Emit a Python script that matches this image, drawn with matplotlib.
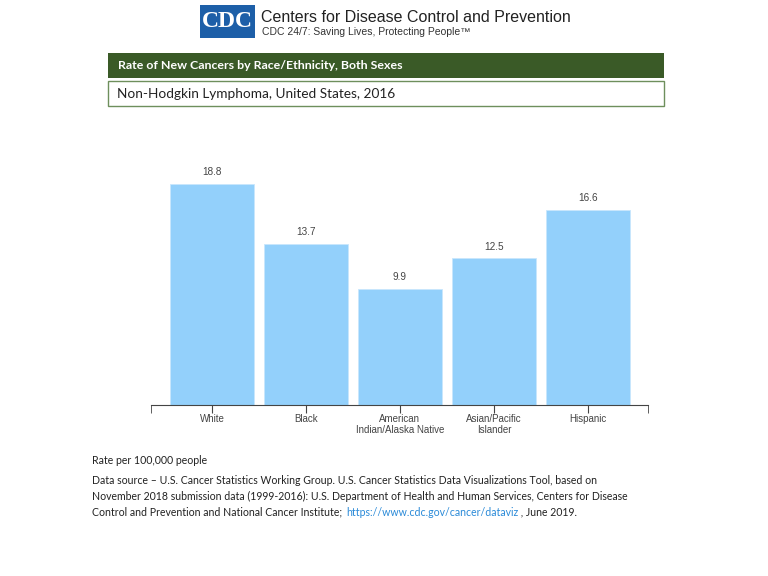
import matplotlib.pyplot as plt
from matplotlib.patches import Rectangle

# data
categories = ["White", "Black", "American\nIndian/Alaska Native", "Asian/Pacific\nIslander", "Hispanic"]
rates = [18.8, 13.7, 9.9, 12.5, 16.6]

W, H = 768, 576
fig = plt.figure(figsize=(W / 100, H / 100), dpi=100)


def fx(px):
    return px / W


def fy(py):
    return 1 - py / H


# logo + header
fig.patches.append(Rectangle((fx(200), fy(38)), fx(55), 33 / H, transform=fig.transFigure,
                             facecolor="#1d5fa8", edgecolor="none"))
fig.text(fx(227.5), fy(21.5), "CDC", color="white", fontsize=17, fontweight="bold",
         family="Liberation Serif", ha="center", va="center")
fig.text(fx(261), fy(17), "Centers for Disease Control and Prevention", fontsize=11.5,
         color="#222222", family="Liberation Sans", va="center")
fig.text(fx(262), fy(32), "CDC 24/7: Saving Lives, Protecting People\u2122", fontsize=7.5,
         color="#333333", family="Liberation Sans", va="center")

fig.patches.append(Rectangle((fx(108), fy(78)), fx(556), 25 / H, transform=fig.transFigure,
                             facecolor="#3a5a27", edgecolor="none"))
fig.text(fx(118), fy(65.5), "Rate of New Cancers by Race/Ethnicity, Both Sexes", fontsize=8.9,
         color="white", fontweight="bold", family="Lato", va="center")
fig.patches.append(Rectangle((fx(108), fy(106)), fx(556), 25 / H, transform=fig.transFigure,
                             facecolor="white", edgecolor="#6e8f5c", linewidth=1))
fig.text(fx(117), fy(93.5), "Non-Hodgkin Lymphoma, United States, 2016", fontsize=9.8,
         color="#222222", family="Lato", va="center")

# chart
ax = fig.add_axes([fx(151), fy(405), fx(648 - 151), (405 - 160) / H])
x = list(range(len(categories)))
bars = ax.bar(x, rates, width=0.9, color="#93d0fb", edgecolor="#c8e6fd", linewidth=0.6)
for xi, v in zip(x, rates):
    ax.text(xi, v + 0.55, f"{v}", ha="center", va="bottom", fontsize=7.2,
            color="#444444", family="Liberation Sans")
ax.set_xlim(-0.65, 4.64)
ax.set_ylim(0, 245 / 11.76)
ax.set_xticks(x)
ax.set_xticklabels(categories, fontsize=7, color="#444444", family="Liberation Sans", linespacing=1.1)
ax.set_xticks([-0.65, 4.64], minor=True)
ax.tick_params(axis="x", which="both", length=6, color="#444444", pad=0.5)
ax.set_yticks([])
for s in ["top", "right", "left"]:
    ax.spines[s].set_visible(False)
ax.spines["bottom"].set_color("#444444")

# footer
fs = 7.6
fig.text(fx(92), fy(461), "Rate per 100,000 people", fontsize=fs, color="#222222",
         family="Lato", va="center")
foot_lines = ["Data source \u2013 U.S. Cancer Statistics Working Group. U.S. Cancer Statistics Data Visualizations Tool, based on",
              "November 2018 submission data (1999-2016): U.S. Department of Health and Human Services, Centers for Disease",
              "Control and Prevention and National Cancer Institute;"]
for i, line in enumerate(foot_lines):
    last = fig.text(fx(92), fy(480 + 16 * i), line, fontsize=fs, color="#222222", family="Lato", va="center")
link = fig.text(0, 0, "https://www.cdc.gov/cancer/dataviz", fontsize=fs, color="#2a8ad8", family="Lato")
fig.canvas.draw()
bb = last.get_window_extent()
link.set_position((bb.x1 / W + fx(4), fy(512)))
link.set_va("center")
fig.canvas.draw()
bb2 = link.get_window_extent()
fig.text(bb2.x1 / W, fy(512), " , June 2019.", fontsize=fs, color="#222222", family="Lato", va="center")

fig.savefig("out.png", dpi=100)
